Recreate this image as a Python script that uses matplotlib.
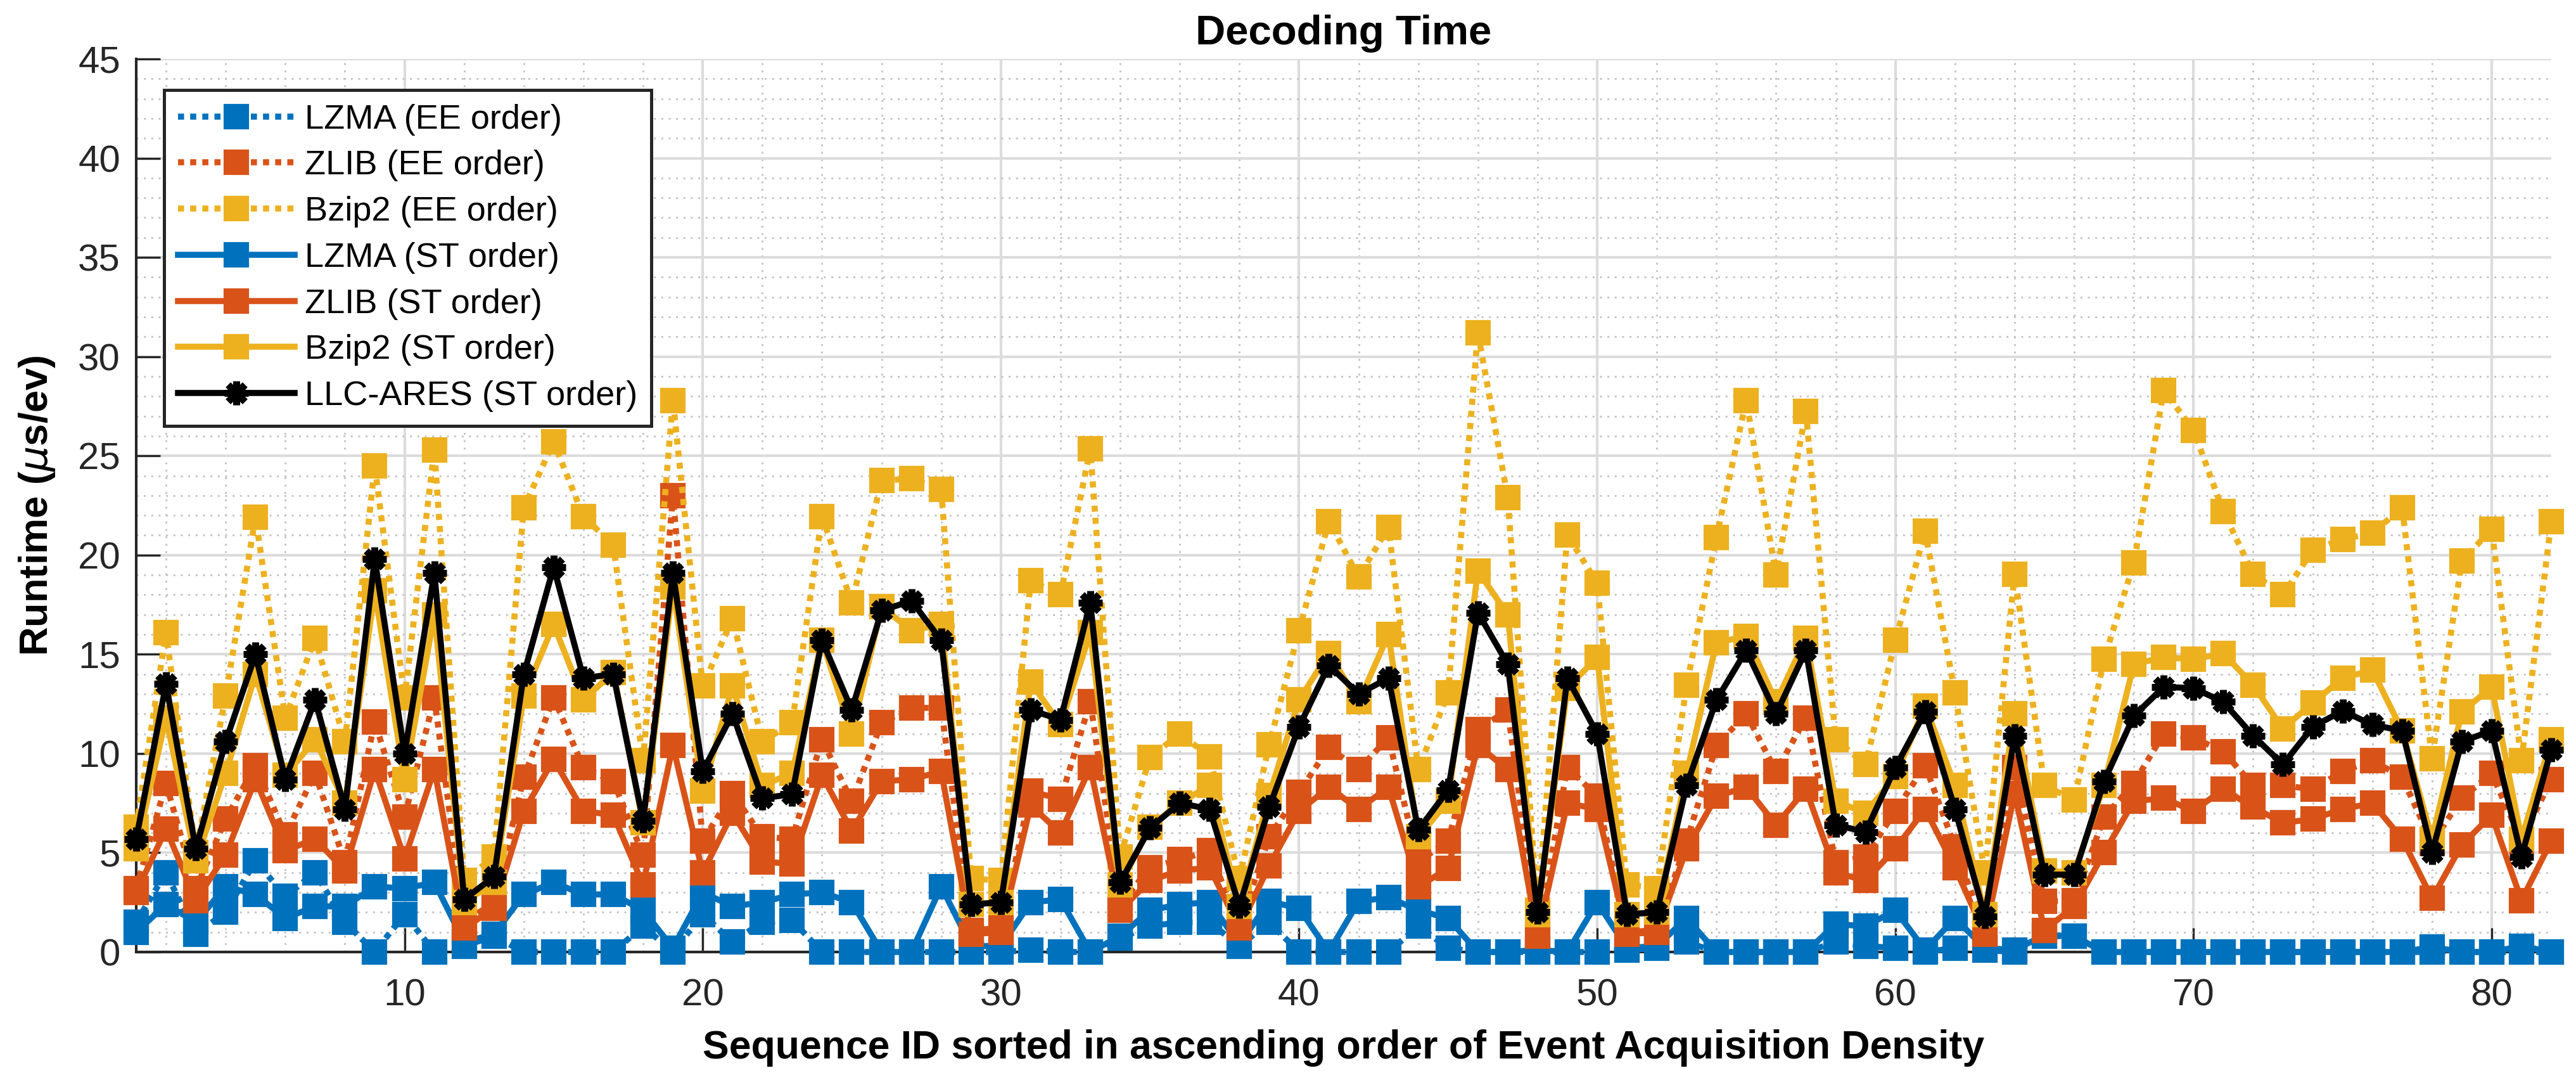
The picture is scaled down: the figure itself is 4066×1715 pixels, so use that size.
import matplotlib
matplotlib.use("Agg")
import matplotlib.pyplot as plt
import numpy as np

# sequence ids 1..82
seq = np.arange(1, 83)

bz_ee = [6.3, 16.1, 5.0, 12.9, 21.9, 11.8, 15.8, 10.6, 24.5, 12.8,
         25.3, 3.6, 4.8, 22.4, 25.7, 21.95, 20.5, 9.65, 27.8, 13.4,
         16.8, 10.6, 11.55, 21.95, 17.6, 23.75, 23.85, 23.3, 3.7, 3.6,
         18.7, 18.0, 25.35, 4.8, 9.8, 11.0, 9.85, 3.7, 10.45, 16.2,
         21.7, 18.9, 21.4, 9.2, 13.05, 31.2, 22.9, 2.1, 21.0, 18.6,
         3.4, 3.2, 13.45, 20.9, 27.8, 19.0, 27.25, 10.7, 9.45, 15.7,
         21.2, 13.05, 4.0, 19.05, 8.4, 7.65, 14.75, 19.6, 28.3, 26.3,
         22.2, 19.05, 18.0, 20.25, 20.8, 21.1, 22.4, 9.75, 19.7, 21.3,
         9.65, 21.7]
zl_ee = [3.2, 8.5, 3.2, 6.7, 9.4, 5.9, 9.0, 4.5, 11.6, 6.8,
         12.8, 1.5, 2.5, 8.8, 12.8, 9.3, 8.6, 4.9, 23.0, 5.6,
         8.0, 5.8, 5.7, 10.7, 7.6, 11.55, 12.3, 12.3, 1.1, 1.2,
         8.1, 7.7, 12.6, 2.4, 4.25, 4.65, 5.1, 1.3, 5.8, 8.05,
         10.3, 9.2, 10.8, 4.55, 5.6, 11.2, 12.2, 0.9, 9.3, 7.85,
         1.0, 1.1, 5.6, 10.4, 12.0, 9.1, 11.8, 4.5, 4.8, 7.1,
         9.4, 5.3, 1.1, 9.3, 2.55, 2.6, 6.8, 8.5, 11.0, 10.8,
         10.1, 8.4, 8.4, 8.2, 9.1, 9.65, 8.8, 5.5, 7.75, 9.0,
         5.6, 8.7]
lz_ee = [1.5, 4.0, 0.9, 2.0, 4.6, 2.8, 4.0, 1.5, 0.0, 1.9,
         0.0, 0.3, 0.8, 0.0, 0.0, 0.0, 0.0, 1.3, 0.0, 1.9,
         0.5, 1.5, 1.6, 0.0, 0.0, 0.0, 0.0, 0.0, 0.0, 0.0,
         0.1, 0.0, 0.0, 0.7, 1.3, 1.5, 1.5, 0.3, 1.5, 0.0,
         0.0, 0.0, 0.0, 1.3, 0.2, 0.0, 0.0, 0.0, 0.0, 0.0,
         0.1, 0.2, 0.5, 0.0, 0.0, 0.0, 0.0, 0.5, 0.3, 0.2,
         0.0, 0.2, 0.1, 0.0, 0.8, 0.8, 0.0, 0.0, 0.0, 0.0,
         0.0, 0.0, 0.0, 0.0, 0.0, 0.0, 0.0, 0.0, 0.0, 0.0,
         0.0, 0.0]
bz_st = [5.2, 11.8, 4.6, 9.0, 14.0, 8.9, 10.7, 7.5, 18.2, 8.7,
         17.0, 2.5, 3.5, 12.9, 16.5, 12.7, 14.1, 6.5, 18.4, 8.1,
         13.4, 8.4, 9.0, 15.7, 11.0, 17.4, 16.2, 16.5, 2.4, 2.5,
         13.6, 11.45, 16.1, 3.4, 6.3, 7.5, 8.4, 2.3, 7.9, 12.7,
         15.05, 12.6, 16.0, 5.8, 7.6, 19.2, 17.0, 1.9, 13.3, 14.85,
         1.9, 2.0, 9.0, 15.6, 15.9, 12.6, 15.8, 7.6, 7.0, 8.85,
         12.4, 8.4, 1.9, 12.0, 4.1, 4.0, 8.4, 14.5, 14.85, 14.75,
         15.05, 13.45, 11.25, 12.55, 13.8, 14.2, 11.15, 5.7, 12.1, 13.35,
         5.7, 10.7]
zl_st = [3.0, 6.2, 2.6, 4.9, 8.7, 5.1, 5.7, 4.1, 9.2, 4.7,
         9.2, 1.2, 2.2, 7.1, 9.7, 7.1, 6.9, 3.4, 10.4, 4.0,
         7.0, 4.55, 4.45, 8.9, 6.1, 8.6, 8.7, 9.1, 0.9, 1.0,
         7.4, 6.0, 9.3, 2.1, 3.6, 4.1, 4.25, 1.2, 4.35, 7.1,
         8.3, 7.2, 8.3, 3.3, 4.2, 10.4, 9.2, 0.8, 7.5, 7.2,
         0.9, 1.0, 5.2, 7.85, 8.3, 6.4, 8.2, 4.0, 3.6, 5.2,
         7.2, 4.25, 0.9, 8.0, 1.1, 2.3, 5.0, 7.6, 7.75, 7.1,
         8.2, 7.3, 6.5, 6.7, 7.2, 7.5, 5.7, 2.7, 5.4, 6.9,
         2.6, 5.6]
lz_st = [1.0, 2.4, 1.5, 3.3, 2.9, 1.7, 2.3, 2.3, 3.3, 3.2,
         3.5, 0.5, 0.9, 2.9, 3.5, 2.9, 2.9, 2.1, 0.2, 3.0,
         2.3, 2.5, 2.9, 3.0, 2.5, 0.0, 0.0, 3.3, 0.3, 0.3,
         2.5, 2.65, 0.0, 0.8, 2.1, 2.4, 2.5, 0.4, 2.55, 2.2,
         0.0, 2.55, 2.75, 2.1, 1.7, 0.0, 0.0, 0.1, 0.0, 2.5,
         0.2, 0.3, 1.7, 0.0, 0.0, 0.0, 0.0, 1.4, 1.3, 2.1,
         0.1, 1.7, 0.2, 0.1, 0.85, 0.8, 0.0, 0.0, 0.0, 0.0,
         0.0, 0.0, 0.0, 0.0, 0.0, 0.0, 0.0, 0.25, 0.0, 0.0,
         0.3, 0.0]
llc = [5.7, 13.5, 5.2, 10.6, 15.0, 8.7, 12.7, 7.2, 19.8, 10.0,
       19.1, 2.65, 3.8, 14.0, 19.4, 13.8, 14.0, 6.6, 19.1, 9.1,
       12.0, 7.75, 7.95, 15.7, 12.2, 17.2, 17.7, 15.7, 2.4, 2.5,
       12.2, 11.7, 17.6, 3.5, 6.25, 7.5, 7.2, 2.3, 7.3, 11.35,
       14.45, 13.0, 13.8, 6.15, 8.15, 17.1, 14.5, 2.0, 13.8, 11.0,
       1.9, 2.0, 8.4, 12.7, 15.2, 12.0, 15.2, 6.4, 6.05, 9.3,
       12.1, 7.2, 1.8, 10.9, 3.9, 3.9, 8.6, 11.9, 13.35, 13.3,
       12.6, 10.9, 9.45, 11.35, 12.15, 11.45, 11.15, 5.0, 10.6, 11.15,
       4.8, 10.2]

BLUE = "#0072BD"
ORANGE = "#D95319"
YELLOW = "#EDB120"
DOT = (0, (1, 1))

plt.rcParams["font.family"] = ["Liberation Sans", "DejaVu Sans"]

fig = plt.figure(figsize=(4066 / 300, 1715 / 300), dpi=300)
ax = fig.add_axes([215 / 4066, 1 - 1502 / 1715, (4027 - 215) / 4066, (1502 - 93) / 1715])

series = [
    (lz_ee, BLUE, DOT, "s", "LZMA (EE order)"),
    (zl_ee, ORANGE, DOT, "s", "ZLIB (EE order)"),
    (bz_ee, YELLOW, DOT, "s", "Bzip2 (EE order)"),
    (lz_st, BLUE, "-", "s", "LZMA (ST order)"),
    (zl_st, ORANGE, "-", "s", "ZLIB (ST order)"),
    (bz_st, YELLOW, "-", "s", "Bzip2 (ST order)"),
]
for vals, col, ls, mk, lab in series:
    ax.plot(seq, vals, color=col, linestyle=ls, linewidth=2.3, marker=mk,
            markersize=8.6, markerfacecolor=col, markeredgecolor=col,
            markeredgewidth=1.0, label=lab, clip_on=False, zorder=3)
ax.plot(seq, llc, color="black", linestyle="-", linewidth=2.3, marker=(8, 2, 0),
        markersize=9, markeredgewidth=2.6, markeredgecolor="black",
        label="LLC-ARES (ST order)", clip_on=False, zorder=4)

ax.set_xlim(1, 82)
ax.set_ylim(0, 45)
ax.set_xticks(np.arange(10, 81, 10))
ax.set_yticks(np.arange(0, 46, 5))
ax.set_xticks(np.arange(2, 82, 2), minor=True)
ax.set_yticks(np.arange(0, 46, 1), minor=True)

ax.grid(which="major", color="#DCDCDC", linewidth=1.0, linestyle="-", zorder=0)
ax.grid(which="minor", color="#C4C4C4", linewidth=0.7, linestyle=(0, (1, 3)), zorder=0)
ax.set_axisbelow(True)

for side in ("top", "right"):
    ax.spines[side].set_visible(False)
for side in ("left", "bottom"):
    ax.spines[side].set_color("#262626")
    ax.spines[side].set_linewidth(1.0)

ax.tick_params(which="major", direction="in", length=9.2, width=0.8, color="#262626",
               labelsize=14.4, labelcolor="#262626")
ax.tick_params(axis="x", which="major", pad=10)
ax.tick_params(axis="y", which="major", pad=6)
ax.tick_params(which="minor", length=0)

ax.set_title("Decoding Time", fontsize=15.7, fontweight="bold", pad=5.5)
ax.set_xlabel("Sequence ID sorted in ascending order of Event Acquisition Density",
              fontsize=15.0, fontweight="bold", labelpad=6)
ax.set_ylabel("Runtime ($\\mu$s/ev)", fontsize=15.2, fontweight="bold", labelpad=8)

leg = ax.legend(loc="upper left", bbox_to_anchor=(259 / 4066, 1 - 142 / 1715),
                bbox_transform=fig.transFigure, borderaxespad=0, fontsize=13,
                handlelength=3.4, handletextpad=0.3, labelspacing=0.42,
                borderpad=0.4, fancybox=False, framealpha=1, edgecolor="#262626")
leg.get_frame().set_linewidth(1.2)
leg.set_zorder(10)

fig.savefig("out.png", dpi=300, facecolor="white")
